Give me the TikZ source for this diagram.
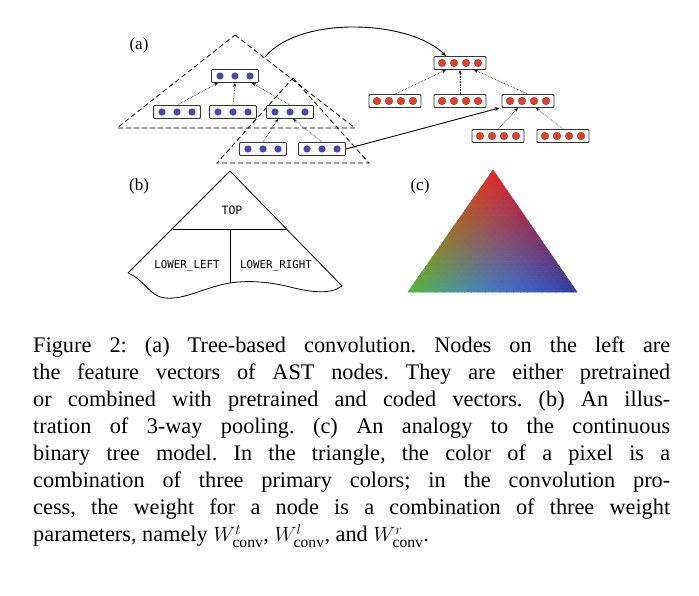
\documentclass[tikz,border=0pt]{standalone}
\usepackage{fontspec}
\setmainfont{Liberation Serif}
\newfontfamily\monof{DejaVu Sans Mono}
\usetikzlibrary{calc,arrows.meta}
\definecolor{dotblue}{RGB}{72,72,175}
\definecolor{dotred}{RGB}{235,60,35}
\tikzset{
 vbox/.style={draw=black!80,line width=0.8pt,rounded corners=1pt,fill=white,minimum height=13pt,inner sep=0pt},
 bvec/.style={vbox,minimum width=47pt},
 rvec/.style={vbox,minimum width=52pt},
 dotarr/.style={densely dotted,line width=0.6pt,-{Stealth[length=4pt,width=3pt]}},
 tri/.style={dashed,line width=0.8pt,dash pattern=on 5pt off 3pt},
 conn/.style={line width=0.9pt,-{Stealth[length=5pt,width=4pt]}},
 lab/.style={font=\fontsize{17}{19}\selectfont},
}
\newcommand{\bvecnode}[3]{\node[bvec] (#1) at (#2,#3) {};
 \foreach \d in {-15,0,15}{\fill[dotblue] ($(#1.center)+(\d,0)$) circle (3.6pt);}}
\newcommand{\rvecnode}[3]{\node[rvec] (#1) at (#2,#3) {};
 \foreach \d in {-18,-6,6,18}{\filldraw[fill=dotred,draw=black!70,line width=0.3pt] ($(#1.center)+(\d,0)$) circle (3.8pt);}}
\begin{document}
\begin{tikzpicture}[x=1pt,y=-1pt]
\useasboundingbox (0,0) rectangle (699,596);
% (a)
\node[lab] (la) at (139,45) {(a)};
\draw[tri] (235,35) -- (355,128) -- (117,128) -- cycle;
\draw[tri] (293,78) -- (369,163) -- (217,163) -- cycle;
\bvecnode{b0}{235}{76}
\bvecnode{b1}{177}{112}
\bvecnode{b2}{233}{112}
\bvecnode{b3}{290}{112}
\bvecnode{b4}{263}{149}
\bvecnode{b5}{322}{149}
\draw[dotarr] (b1.north) -- ($(b0.south)+(-17,0)$);
\draw[dotarr] (b2.north) -- (b0.south);
\draw[dotarr] (b3.north) -- ($(b0.south)+(17,0)$);
\draw[dotarr] (b4.north) -- ($(b3.south)+(-12,0)$);
\draw[dotarr] (b5.north) -- ($(b3.south)+(3,0)$);
\rvecnode{r0}{460}{63}
\rvecnode{r1}{395}{101}
\rvecnode{r2}{460}{101}
\rvecnode{r3}{528}{101}
\rvecnode{r4}{498}{136}
\rvecnode{r5}{563}{136}
\draw[dotarr] (r1.north) -- ($(r0.south)+(-14,0)$);
\draw[dotarr] (r2.north) -- (r0.south);
\draw[dotarr] (r3.north) -- ($(r0.south)+(14,0)$);
\draw[dotarr] (r4.north) -- ($(r3.south)+(-10,0)$);
\draw[dotarr] (r5.north) -- ($(r3.south)+(8,0)$);
\coordinate (cs) at (265,57);
\draw[conn] (cs) .. controls (300,15) and (410,20) .. ($(r0.north)+(-14,0)$);
\draw[conn] (b5.east) -- ($(r3.south west)+(-2,0)$);
% (b)
\node[lab] (lb) at (139,186) {(b)};
\draw[line width=0.8pt] (128,273) -- (230,171) -- (342,286)
  .. controls (330,295) and (310,292) .. (290,287)
  .. controls (270,282) and (250,280) .. (230,283)
  .. controls (205,287) and (185,300) .. (165,298)
  .. controls (150,297) and (145,280) .. (128,273);
\draw[line width=0.8pt] (173,229) -- (286,229);
\draw[line width=0.8pt] (230,229) -- (230,283);
\node[font=\monof\fontsize{11.5}{13}\selectfont] (top) at (232,210) {TOP};
\node[font=\monof\fontsize{10.8}{13}\selectfont] (ll) at (187,266) {LOWER\_LEFT};
\node[font=\monof\fontsize{10.8}{13}\selectfont] (lr) at (276,266) {LOWER\_RIGHT};
% (c)
\node[lab] (lc) at (420,186) {(c)};
\foreach \i in {0,...,23}{
 \foreach \j in {0,...,23}{
  \pgfmathtruncatemacro{\ok}{\i+\j<24 ? 1 : 0}
  \ifnum\ok=1
   \pgfmathsetmacro{\ca}{1-(\i+\j+0.67)/24}
   \pgfmathsetmacro{\cb}{(\i+0.33)/24}
   \pgfmathsetmacro{\cc}{(\j+0.33)/24}
   \pgfmathsetmacro{\R}{max(0,min(1,\ca*0.88+\cb*0.33+\cc*0.20))}
   \pgfmathsetmacro{\G}{max(0,min(1,\ca*0.16+\cb*0.72+\cc*0.24))}
   \pgfmathsetmacro{\B}{max(0,min(1,\ca*0.16+\cb*0.20+\cc*0.60+4*\cb*\cc*0.35))}
   \definecolor{tc}{rgb}{\R,\G,\B}
   \fill[tc,draw=tc,line width=0.5pt]
    ($(493,170)+\i*(-85/24,122/24)+\j*(84/24,122/24)$) --
    ($(493,170)+{\i+1}*(-85/24,122/24)+\j*(84/24,122/24)$) --
    ($(493,170)+\i*(-85/24,122/24)+{\j+1}*(84/24,122/24)$) -- cycle;
   \pgfmathtruncatemacro{\ok}{\i+\j<23 ? 1 : 0}
   \ifnum\ok=1
    \pgfmathsetmacro{\ca}{1-(\i+\j+1.33)/24}
    \pgfmathsetmacro{\cb}{(\i+0.67)/24}
    \pgfmathsetmacro{\cc}{(\j+0.67)/24}
    \pgfmathsetmacro{\R}{max(0,min(1,\ca*0.88+\cb*0.33+\cc*0.20))}
    \pgfmathsetmacro{\G}{max(0,min(1,\ca*0.16+\cb*0.72+\cc*0.24))}
    \pgfmathsetmacro{\B}{max(0,min(1,\ca*0.16+\cb*0.20+\cc*0.60+4*\cb*\cc*0.35))}
    \definecolor{tc}{rgb}{\R,\G,\B}
    \fill[tc,draw=tc,line width=0.5pt]
     ($(493,170)+{\i+1}*(-85/24,122/24)+\j*(84/24,122/24)$) --
     ($(493,170)+{\i+1}*(-85/24,122/24)+{\j+1}*(84/24,122/24)$) --
     ($(493,170)+\i*(-85/24,122/24)+{\j+1}*(84/24,122/24)$) -- cycle;
   \fi
  \fi
 }
}
% caption
\node[anchor=north west,inner sep=0pt,text width=637pt,align=justify,
  font=\frenchspacing\fontsize{22.3}{27}\selectfont] (cap) at (33,337) {%
Figure 2: (a) Tree-based convolution. Nodes on the left are\linebreak
the feature vectors of AST nodes. They are either pretrained\linebreak
or combined with pretrained and coded vectors. (b) An illus-\linebreak
tration of 3-way pooling. (c) An analogy to the continuous\linebreak
binary tree model. In the triangle, the color of a pixel is a\linebreak
combination of three primary colors; in the convolution pro-\linebreak
cess, the weight for a node is a combination of three weight\linebreak
parameters, namely $W^t_{\mathrm{conv}}$, $W^l_{\mathrm{conv}}$, and $W^r_{\mathrm{conv}}$.};
\end{tikzpicture}
\end{document}
